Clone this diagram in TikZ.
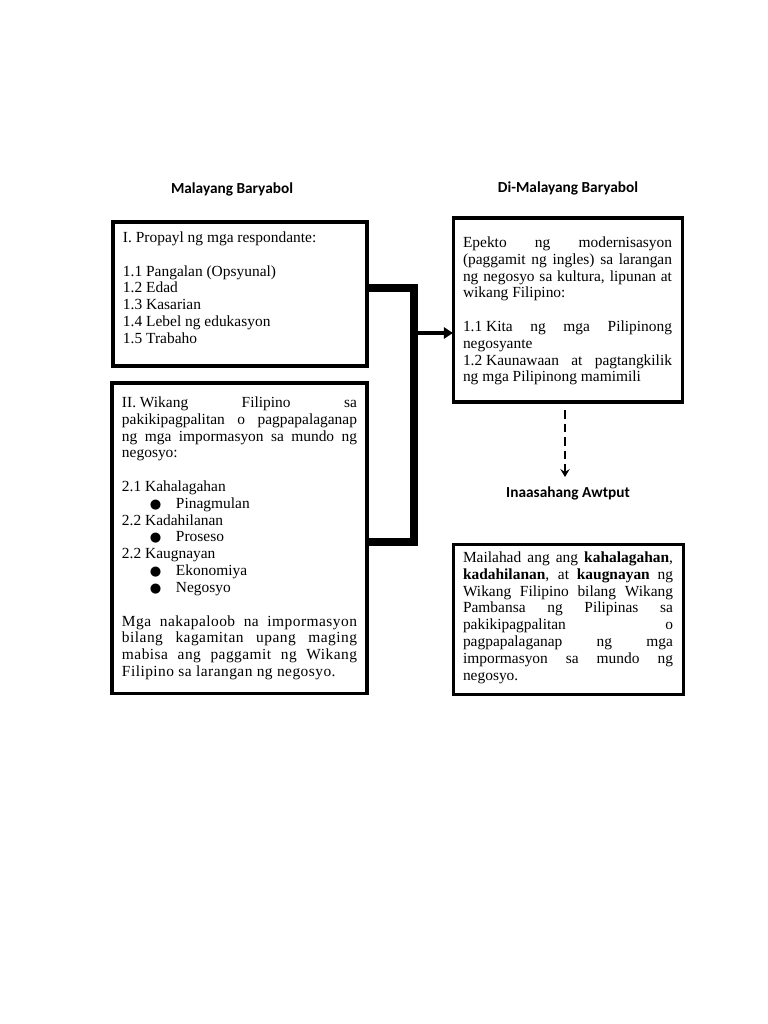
\documentclass[tikz,border=0pt]{standalone}
\usepackage{fontspec}
\setmainfont{Liberation Serif}
\newfontfamily\titlefont{Carlito}
\newfontfamily\bulfont{DejaVu Sans}
\usetikzlibrary{arrows.meta}
\newlength\px
\setlength\px{0.796875pt}
\newcommand\jl[1]{\makebox[\linewidth][s]{#1}\\}
\newcommand\bul{\hspace*{28\px}\makebox[26\px][l]{\bulfont\fontsize{10.5}{10}\selectfont ●}}
\newcommand\bodysize{\fontsize{12.3}{13.39}\selectfont}
\begin{document}
\begin{tikzpicture}[x=0.796875pt,y=-0.796875pt,
  box/.style={draw, line width=2.4pt, anchor=north west, inner sep=0pt, outer sep=0pt},
  title/.style={font=\titlefont\bfseries\fontsize{12.2}{14}\selectfont, inner sep=0pt},
  thickline/.style={line width=5.6pt},
  feed/.style={line width=3.2pt, -{Triangle[length=7.2pt,width=8.8pt]}},
  dashedarrow/.style={line width=2pt, dash pattern=on 6.8pt off 4pt, -{Stealth[length=6.4pt,width=7.6pt,inset=2.4pt]}}
]
\useasboundingbox (0,0) rectangle (768,1024);

\node[title] (t1) at (232,189) {Malayang Baryabol};
\node[title] (t2) at (568,188) {Di-Malayang Baryabol};

\node[box, minimum width=202.4pt, minimum height=114.75pt] (b1) at (113,222)
{\parbox[c][144\px][t]{234\px}{\bodysize\raggedright
\vspace*{8.8\px}\strut I. Propayl ng mga respondante:\\
\mbox{}\\
1.1 Pangalan (Opsyunal)\\
1.2 Edad\\
1.3 Kasarian\\
1.4 Lebel ng edukasyon\\
1.5 Trabaho}};

\node[box, minimum width=203.2pt, minimum height=247.0pt] (b2) at (112,383)
{\parbox[c][310\px][t]{235\px}{\bodysize\raggedright
\vspace*{12.8\px}\strut\jl{II.\hspace{0.25em}Wikang Filipino sa}
\jl{pakikipagpalitan o pagpapalaganap}
\jl{ng mga impormasyon sa mundo ng}
negosyo:\\
\mbox{}\\
2.1 Kahalagahan\\
\bul Pinagmulan\\
2.2 Kadahilanan\\
\bul Proseso\\
2.2 Kaugnayan\\
\bul Ekonomiya\\
\bul Negosyo\\
\mbox{}\\
{\addfontfeature{LetterSpace=3}%
\jl{Mga nakapaloob na impormasyon}
\jl{bilang kagamitan upang maging}
\jl{mabisa ang paggamit ng Wikang}
Filipino sa larangan ng negosyo.}}};

\node[box, minimum width=182.5pt, minimum height=146.6pt] (b3) at (453,218)
{\parbox[c][184\px][t]{209\px}{\bodysize\raggedright
\vspace*{17.8\px}\strut\jl{Epekto ng modernisasyon}
\jl{(paggamit ng ingles) sa larangan}
\jl{ng negosyo sa kultura, lipunan at}
wikang Filipino:\\
\mbox{}\\
\jl{1.1\hspace{0.25em}Kita ng mga Pilipinong}
negosyante\\
\jl{1.2\hspace{0.25em}Kaunawaan at pagtangkilik}
ng mga Pilipinong mamimili}};

\node[title] (t3) at (568,493) {Inaasahang Awtput};

\node[box, minimum width=183.3pt, minimum height=119.5pt] (b4) at (453,544)
{\parbox[c][150\px][t]{210\px}{\bodysize\raggedright
\vspace*{6.8\px}\strut\jl{Mailahad ang ang \textbf{kahalagahan},}
\jl{\textbf{kadahilanan}, at \textbf{kaugnayan} ng}
\jl{Wikang Filipino bilang Wikang}
\jl{Pambansa ng Pilipinas sa}
\jl{pakikipagpalitan o}
\jl{pagpapalaganap ng mga}
\jl{impormasyon sa mundo ng}
negosyo.}};

\coordinate (j1) at (414,288);
\coordinate (j2) at (414,542);
\coordinate (j3) at (414,333);
\coordinate (d1) at (565,410);
\coordinate (d2) at (565,477);

\draw[thickline] (b1.east |- j1) -- (j1) -- (j2) -- (b2.east |- j2);
\draw[feed] (j3) -- (b3.west |- j3);
\draw[dashedarrow] (d1) -- (d2);
\end{tikzpicture}
\end{document}
